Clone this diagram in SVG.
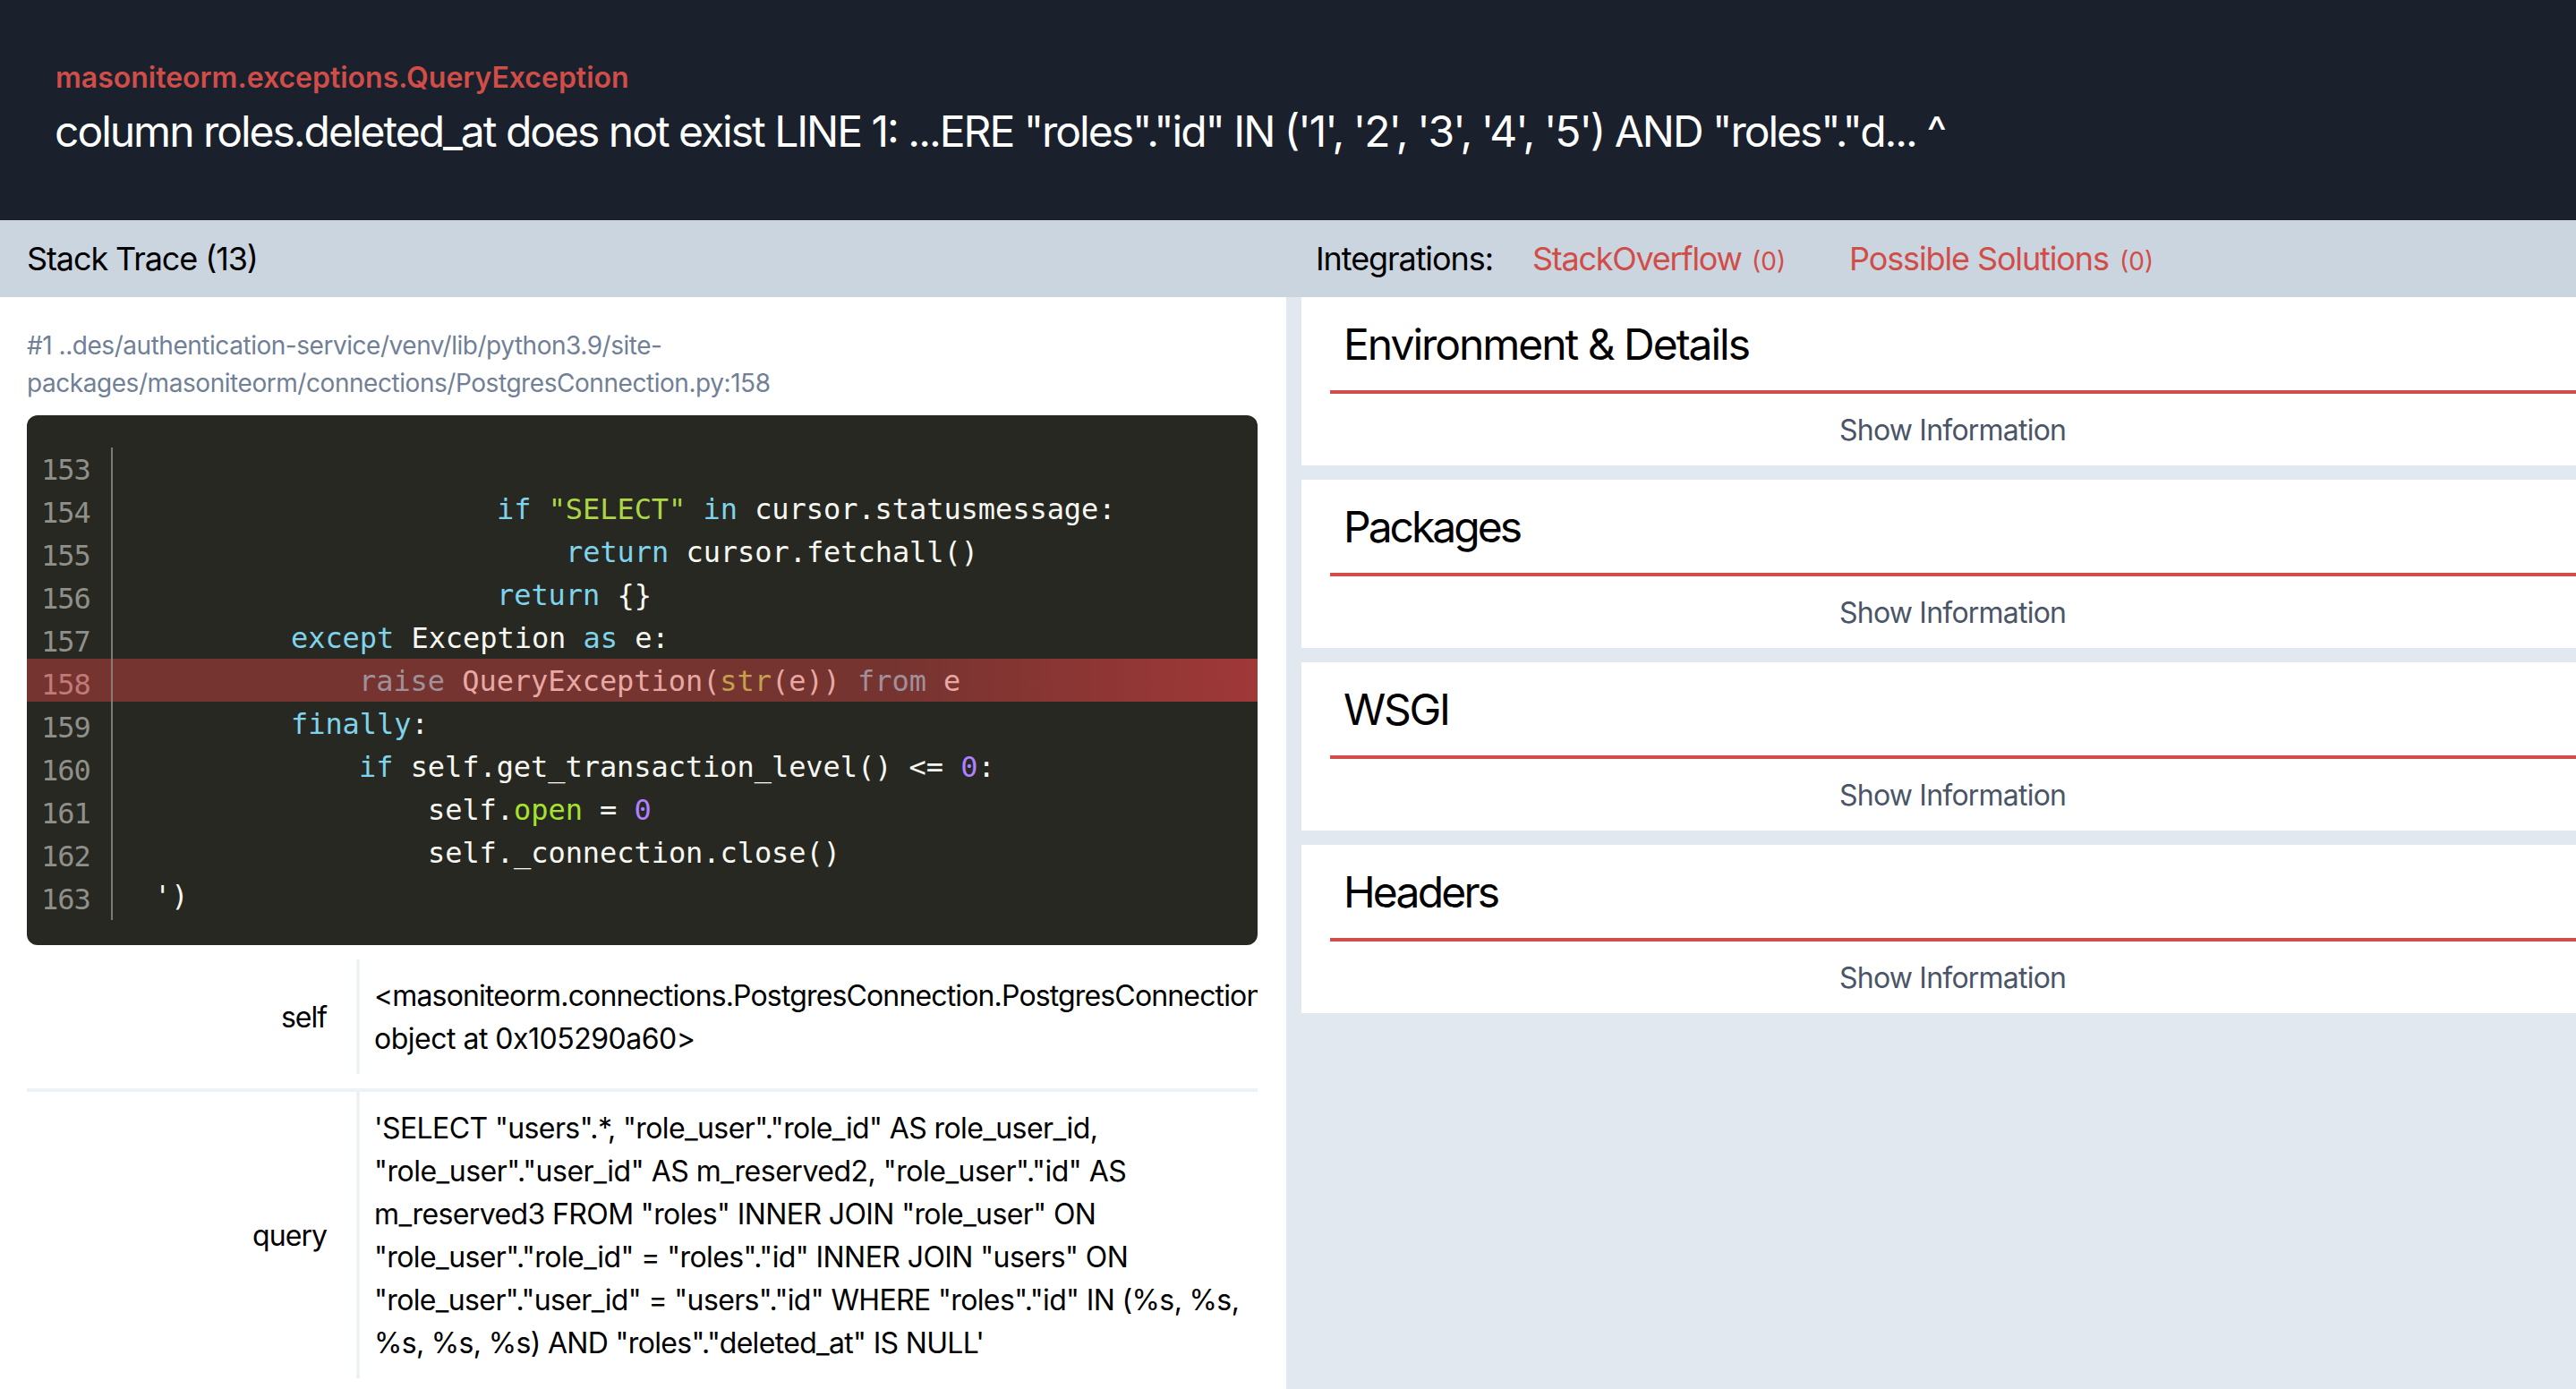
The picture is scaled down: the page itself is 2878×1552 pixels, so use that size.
<svg xmlns="http://www.w3.org/2000/svg" width="2878" height="1552" viewBox="0 0 2878 1552">
<style>
text{font-family:"Inter","Liberation Sans",sans-serif;white-space:pre}
.h{font-size:48px;fill:#000}
.b{font-size:36px}
.r{fill:#d14d48}
.s{font-size:32px;fill:#4a5568}
.small{font-size:28px;fill:#d14d48}
.path{font-size:28px;fill:#718096}
.code text{font-family:"DejaVu Sans Mono","Liberation Mono",monospace;font-size:32px;fill:#f8f8f2;letter-spacing:-.06px}
.code .n{fill:#8f908a;letter-spacing:-1px}
.k{fill:#7fd3ea}.g{fill:#a6e22e}.y{fill:#aed644}.p{fill:#ae81ff}
.code .dk{fill:#a0909a}.code .dt{fill:#e8a8a4}.code .do{fill:#c4a04c}.code .dn{fill:#c07a78}
.line{fill:#d14d48}
.val{font-size:32px;fill:#000;letter-spacing:-.85px}
.lab{font-size:32px;fill:#000}
</style>
<defs>
<clipPath id="cl"><rect x="30" y="1060" width="1375" height="492"/></clipPath>
<linearGradient id="hl"><stop offset="0" stop-color="#763430"/><stop offset="1" stop-color="#a03838"/></linearGradient>
</defs>
<rect width="2878" height="1552" fill="#e2e8f0"/>
<g id="header"><rect width="2878" height="246" fill="#1a202c"/>
<text x="62" y="98" style="font-size:32px;font-weight:600" class="r">masoniteorm.exceptions.QueryException</text>
<text x="61" y="164" style="font-size:48px" fill="#fff" textLength="2114">column roles.deleted_at does not exist LINE 1: ...ERE "roles"."id" IN ('1', '2', '3', '4', '5') AND "roles"."d... ^</text>
</g>
<g id="toolbar"><rect y="246" width="2878" height="86" fill="#cbd5e0"/>
<text x="30" y="302" class="b" fill="#000" textLength="259">Stack Trace (13)</text>
<text x="1470" y="302" class="b" fill="#000" textLength="199">Integrations:</text>
<text x="1712" y="302" class="b r" textLength="235">StackOverflow</text><text x="1957" y="302" class="small">(0)</text>
<text x="2066" y="302" class="b r" textLength="291">Possible Solutions</text><text x="2368" y="302" class="small">(0)</text>
</g>
<g id="stack-panel"><rect y="332" width="1437" height="1220" fill="#fff"/>
<text x="30" y="396" class="path" textLength="710">#1 ..des/authentication-service/venv/lib/python3.9/site-</text>
<text x="30" y="438" class="path" textLength="831">packages/masoniteorm/connections/PostgresConnection.py:158</text>
</g>
<g id="code" class="code">
<rect x="30" y="464" width="1375" height="592" rx="12" fill="#272822"/>
<text x="46" y="536" class="n">153</text>
<text x="46" y="584" class="n">154</text><text x="555" y="580"><tspan class="k">if</tspan> <tspan class="y">"SELECT"</tspan> <tspan class="k">in</tspan> cursor.statusmessage:</text>
<text x="46" y="632" class="n">155</text><text x="632" y="628"><tspan class="k">return</tspan> cursor.fetchall()</text>
<text x="46" y="680" class="n">156</text><text x="555" y="676"><tspan class="k">return</tspan> {}</text>
<text x="46" y="728" class="n">157</text><text x="325" y="724"><tspan class="k">except</tspan> Exception <tspan class="k">as</tspan> e:</text>
<rect x="30" y="736" width="970" height="48" fill="#763430"/>
<rect x="1000" y="736" width="405" height="48" fill="url(#hl)"/>
<text x="46" y="776" class="n dn">158</text>
<text x="401" y="772"><tspan class="dk">raise</tspan> <tspan class="dt">QueryException(</tspan><tspan class="do">str</tspan><tspan class="dt">(e))</tspan> <tspan class="dk">from</tspan> <tspan class="dt">e</tspan></text>
<rect x="124" y="500" width="2" height="528" fill="#8f908a" fill-opacity=".8"/>
<text x="46" y="824" class="n">159</text><text x="325" y="820"><tspan class="k">finally</tspan>:</text>
<text x="46" y="872" class="n">160</text><text x="401" y="868"><tspan class="k">if</tspan> self.get_transaction_level() &lt;= <tspan class="p">0</tspan>:</text>
<text x="46" y="920" class="n">161</text><text x="478" y="916">self.<tspan class="g">open</tspan> = <tspan class="p">0</tspan></text>
<text x="46" y="968" class="n">162</text><text x="478" y="964">self._connection.close()</text>
<text x="46" y="1016" class="n">163</text><text x="172" y="1012">')</text>
</g>
<g id="variables">
<rect x="398" y="1072" width="4" height="128" fill="#edf2f7"/>
<rect x="30" y="1216" width="1375" height="4" fill="#edf2f7"/>
<rect x="398" y="1220" width="4" height="320" fill="#edf2f7"/>
<text x="314" y="1148" class="lab" textLength="52">self</text>
<g clip-path="url(#cl)"><text x="418" y="1124" class="val">&lt;masoniteorm.connections.PostgresConnection.PostgresConnection</text></g>
<text x="418" y="1172" class="val" textLength="358">object at 0x105290a60&gt;</text>
<text x="282" y="1392" class="lab" textLength="84">query</text>
<text x="418" y="1272" class="val" textLength="808">'SELECT "users".*, "role_user"."role_id" AS role_user_id,</text>
<text x="418" y="1320" class="val" textLength="840">"role_user"."user_id" AS m_reserved2, "role_user"."id" AS</text>
<text x="418" y="1368" class="val" textLength="806">m_reserved3 FROM "roles" INNER JOIN "role_user" ON</text>
<text x="418" y="1416" class="val" textLength="842">"role_user"."role_id" = "roles"."id" INNER JOIN "users" ON</text>
<text x="418" y="1464" class="val" textLength="966">"role_user"."user_id" = "users"."id" WHERE "roles"."id" IN (%s, %s,</text>
<text x="418" y="1512" class="val" textLength="681">%s, %s, %s) AND "roles"."deleted_at" IS NULL'</text>
</g>
<g id="card-environment"><rect x="1454" y="332" width="1424" height="188" fill="#fff"/><rect x="1486" y="436" width="1392" height="4" class="line"/><text x="1501" y="402" class="h" textLength="455">Environment &amp; Details</text><text x="2055" y="492" class="s" textLength="254">Show Information</text></g>
<g id="card-packages"><rect x="1454" y="536" width="1424" height="188" fill="#fff"/><rect x="1486" y="640" width="1392" height="4" class="line"/><text x="1501" y="606" class="h" textLength="200">Packages</text><text x="2055" y="696" class="s" textLength="254">Show Information</text></g>
<g id="card-wsgi"><rect x="1454" y="740" width="1424" height="188" fill="#fff"/><rect x="1486" y="844" width="1392" height="4" class="line"/><text x="1501" y="810" class="h" textLength="120">WSGI</text><text x="2055" y="900" class="s" textLength="254">Show Information</text></g>
<g id="card-headers"><rect x="1454" y="944" width="1424" height="188" fill="#fff"/><rect x="1486" y="1048" width="1392" height="4" class="line"/><text x="1501" y="1014" class="h" textLength="175">Headers</text><text x="2055" y="1104" class="s" textLength="254">Show Information</text></g>
</svg>
